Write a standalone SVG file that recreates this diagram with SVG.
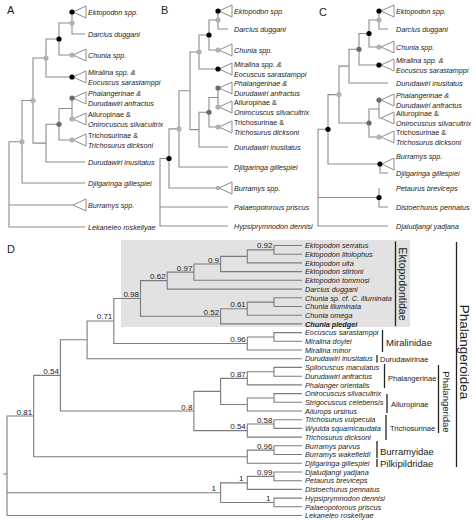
<svg xmlns="http://www.w3.org/2000/svg" width="474" height="520" viewBox="0 0 474 520">
<style>
.ln{fill:none;stroke:#8c8c8c;stroke-width:1.1}
.dl{fill:none;stroke:#7c7c7c;stroke-width:1.1}
.tr{fill:#fff;stroke:#8c8c8c;stroke-width:1}
.t{font-family:"Liberation Sans",Arial,sans-serif;font-size:7.2px;fill:#222}
.i{font-style:italic}
.dt{font-size:7.3px}
.n{font-family:"Liberation Sans",Arial,sans-serif;font-size:8px;fill:#222;text-anchor:end}
.pl{font-family:"Liberation Sans",Arial,sans-serif;font-size:11px;fill:#222}
.k{fill:#000}.g{fill:#b0b0b0}.d{fill:#6a6a6a}
.bar{stroke:#222;stroke-width:1.3;fill:none}
.cl{font-family:"Liberation Sans",Arial,sans-serif;fill:#222}
</style>
<rect x="0" y="0" width="474" height="520" fill="#fff"/>
<text class="pl" x="7" y="14">A</text>
<text class="pl" x="161" y="14">B</text>
<text class="pl" x="319" y="16">C</text>
<text class="pl" x="7" y="253">D</text>

<!-- ========== Panel A ========== -->
<g id="A-connectors">
<path class="ln" d="M72,12V34H85 M72,23H59V55H72 M59,39H46V77H72 M72,98V119 M72,108.5H59V140H72 M59,124.25H46V162H85 M46,58H33V143.1H46 M33,100.5H22V183H85 M22,141.8H9V227H85 M9,205H73"/>
</g>
<g id="A-supports">
<circle class="g" cx="72" cy="23" r="2.6"/><circle class="k" cx="59" cy="39" r="2.6"/><circle class="g" cx="46" cy="58" r="2.6"/>
<circle class="d" cx="59" cy="124.25" r="2.6"/><circle class="g" cx="33" cy="100.5" r="2.6"/><circle class="g" cx="22" cy="141.8" r="2.6"/>
</g>
<g id="A-ektopodon"><path class="tr" d="M73,12L86,6L86,18Z"/><circle class="k" cx="72" cy="12" r="2.6"/><text class="t i" x="88" y="14.7">Ektopodon spp.</text></g>
<g id="A-darcius"><text class="t i" x="88" y="36.7">Darcius duggani</text></g>
<g id="A-chunia"><path class="tr" d="M73,55L86,49L86,61Z"/><circle class="g" cx="72" cy="55" r="2.6"/><text class="t i" x="88" y="57.7">Chunia spp.</text></g>
<g id="A-miralina"><path class="tr" d="M73,77L86,71L86,83Z"/><circle class="k" cx="72" cy="77" r="2.6"/><text class="t i" x="88" y="75">Miralina spp. &amp;</text><text class="t i" x="88" y="85">Eocuscus sarastamppi</text></g>
<g id="A-phalangerinae"><path class="tr" d="M73,98L86,92L86,104Z"/><circle class="d" cx="72" cy="98" r="2.6"/><text class="t i" x="88" y="96">Phalangerinae &amp;</text><text class="t i" x="88" y="106">Durudawiri anfractus</text></g>
<g id="A-ailuropinae"><path class="tr" d="M73,119L86,113L86,125Z"/><circle class="g" cx="72" cy="119" r="2.6"/><text class="t" x="88" y="117">Ailuropinae &amp;</text><text class="t i" x="88" y="127">Onirocuscus silvacultrix</text></g>
<g id="A-trichosurinae"><path class="tr" d="M73,140L86,134L86,146Z"/><circle class="g" cx="72" cy="140" r="2.6"/><text class="t" x="88" y="138">Trichosurinae &amp;</text><text class="t i" x="88" y="148">Trichosurus dicksoni</text></g>
<g id="A-durudawiri"><text class="t i" x="88" y="164.7">Durudawiri inusitatus</text></g>
<g id="A-djilgaringa"><text class="t i" x="88" y="185.7">Djilgaringa gillespiei</text></g>
<g id="A-burramys"><path class="tr" d="M73,205L86,199L86,211Z"/><text class="t i" x="88" y="207.7">Burramys spp.</text></g>
<g id="A-lekaneleo"><text class="t i" x="88" y="229.7">Lekaneleo roskellyae</text></g>

<!-- ========== Panel B ========== -->
<g id="B-connectors">
<path class="ln" d="M218,11V29H228 M218,20H209V50H218 M209,35H199V69H218 M218,88V107 M218,97.5H209V127H218 M209,112.25H199V147H228 M199,52H190V129.6H199 M190,90.8H179V167H228 M179,128.9H169V188H219 M169,158.5H160V226H228 M160,207H228"/>
</g>
<g id="B-supports">
<circle class="g" cx="218" cy="20" r="2.6"/><circle class="k" cx="209" cy="35" r="2.6"/><circle class="g" cx="199" cy="52" r="2.6"/>
<circle class="d" cx="209" cy="112.25" r="2.6"/><circle class="g" cx="179" cy="128.9" r="2.6"/><circle class="k" cx="169" cy="158.5" r="2.6"/>
</g>
<g id="B-ektopodon"><path class="tr" d="M219,11L232,5L232,17Z"/><circle class="k" cx="218" cy="11" r="2.6"/><text class="t i" x="234" y="13.7">Ektopodon spp.</text></g>
<g id="B-darcius"><text class="t i" x="234" y="31.7">Darcius duggani</text></g>
<g id="B-chunia"><path class="tr" d="M219,50L232,44L232,56Z"/><circle class="g" cx="218" cy="50" r="2.6"/><text class="t i" x="234" y="52.7">Chunia spp.</text></g>
<g id="B-miralina"><path class="tr" d="M219,69L232,63L232,75Z"/><circle class="k" cx="218" cy="69" r="2.6"/><text class="t i" x="234" y="67">Miralina spp. &amp;</text><text class="t i" x="234" y="77">Eocuscus sarastamppi</text></g>
<g id="B-phalangerinae"><path class="tr" d="M219,88L232,82L232,94Z"/><circle class="d" cx="218" cy="88" r="2.6"/><text class="t i" x="234" y="86">Phalangerinae &amp;</text><text class="t i" x="234" y="96">Durudawiri anfractus</text></g>
<g id="B-ailuropinae"><path class="tr" d="M219,107L232,101L232,113Z"/><circle class="g" cx="218" cy="107" r="2.6"/><text class="t" x="234" y="105">Ailuropinae &amp;</text><text class="t i" x="234" y="115">Onirocuscus silvacultrix</text></g>
<g id="B-trichosurinae"><path class="tr" d="M219,127L232,121L232,133Z"/><circle class="g" cx="218" cy="127" r="2.6"/><text class="t" x="234" y="125">Trichosurinae &amp;</text><text class="t i" x="234" y="135">Trichosurus dicksoni</text></g>
<g id="B-durudawiri"><text class="t i" x="234" y="149.7">Durudawiri inusitatus</text></g>
<g id="B-djilgaringa"><text class="t i" x="234" y="169.7">Djilgaringa gillespiei</text></g>
<g id="B-burramys"><path class="tr" d="M219,188L232,182L232,194Z"/><circle class="g" cx="218" cy="188" r="2.3"/><text class="t i" x="234" y="190.7">Burramys spp.</text></g>
<g id="B-palaeopotorous"><text class="t i" x="234" y="209.7">Palaeopotorous priscus</text></g>
<g id="B-hypsiprymnodon"><text class="t i" x="234" y="228.7">Hypsiprymnodon dennisi</text></g>

<!-- ========== Panel C ========== -->
<g id="C-connectors">
<path class="ln" d="M379,11V29H388 M379,20H369V47H379 M369,33.5H359V65H379 M359,49.25H349V83H388 M379,100V118H381 M379,109H369V137H379 M349,66.1H339V123H369 M339,94.6H328V164H381 M380,164V173H388 M379,188V207H388 M318,197.5H379 M328,129.3H318V226H388"/>
</g>
<g id="C-supports">
<circle class="g" cx="379" cy="20" r="2.6"/><circle class="k" cx="369" cy="33.5" r="2.6"/><circle class="d" cx="359" cy="49.25" r="2.6"/>
<circle class="d" cx="369" cy="123" r="2.6"/><circle class="g" cx="339" cy="94.6" r="2.6"/><circle class="k" cx="328" cy="129.3" r="2.6"/>
<circle class="k" cx="380" cy="164" r="2.6"/><circle class="k" cx="379" cy="197.5" r="2.6"/>
</g>
<g id="C-ektopodon"><path class="tr" d="M381,11L394,5L394,17Z"/><circle class="k" cx="379" cy="11" r="2.6"/><text class="t i" x="396" y="13.7">Ektopodon spp.</text></g>
<g id="C-darcius"><text class="t i" x="396" y="31.7">Darcius duggani</text></g>
<g id="C-chunia"><path class="tr" d="M381,47L394,41L394,53Z"/><circle class="g" cx="379" cy="47" r="2.6"/><text class="t i" x="396" y="49.7">Chunia spp.</text></g>
<g id="C-miralina"><path class="tr" d="M381,65L394,59L394,71Z"/><circle class="k" cx="379" cy="65" r="2.6"/><text class="t i" x="396" y="63">Miralina spp. &amp;</text><text class="t i" x="396" y="73">Eocuscus sarastamppi</text></g>
<g id="C-durudawiri"><text class="t i" x="396" y="85.7">Durudawiri inusitatus</text></g>
<g id="C-phalangerinae"><path class="tr" d="M381,100L394,94L394,106Z"/><circle class="d" cx="379" cy="100" r="2.6"/><text class="t i" x="396" y="98">Phalangerinae &amp;</text><text class="t i" x="396" y="108">Durudawiri anfractus</text></g>
<g id="C-ailuropinae"><path class="tr" d="M381,118L394,112L394,124Z"/><text class="t" x="396" y="116">Ailuropinae &amp;</text><text class="t i" x="396" y="126">Onirocuscus silvacultrix</text></g>
<g id="C-trichosurinae"><path class="tr" d="M381,137L394,131L394,143Z"/><circle class="g" cx="379" cy="137" r="2.6"/><text class="t" x="396" y="135">Trichosurinae &amp;</text><text class="t i" x="396" y="145">Trichosurus dicksoni</text></g>
<g id="C-burramys"><path class="tr" d="M382,164L394,158L394,170Z"/><text class="t i" x="396" y="159">Burramys spp.</text></g>
<g id="C-djilgaringa"><text class="t i" x="396" y="175.7">Djilgaringa gillespiei</text></g>
<g id="C-petaurus"><text class="t i" x="396" y="190.7">Petaurus breviceps</text></g>
<g id="C-distoechurus"><text class="t i" x="396" y="209.7">Distoechurus pennatus</text></g>
<g id="C-djaludjangi"><text class="t i" x="396" y="228.7">Djaludjangi yadjana</text></g>

<!-- ========== Panel D ========== -->
<rect id="D-ektopodontidae-box" x="121" y="240" width="289" height="87" fill="#e2e2e2"/>
<g id="D-connectors">
<path class="dl" d="M302,245.5H274V254.2H302 M274,249.85H247.3V262.9H302 M247.3,256.4H220.6V271.6H302 M220.6,264H193.9V280.3H302 M193.9,272.15H167.2V289.1H302
M302,297.8H274V306.5H302 M274,302.15H247.3V315.2H302 M247.3,308.7H220.6V323.9H302 M167.2,280.6H140.5V316.3H220.6
M302,332.6H274V341.3H302 M274,336.95H247.3V350H302 M140.5,298.45H113.8V343.5H247.3 M113.8,320.95H87.1V358.7H302
M302,367.4H274V376.2H302 M274,371.8H247.3V384.9H302 M302,393.6H274V402.3H302 M274,397.95H247.3V411H302 M247.3,378.35H220.6V404.5H247.3
M302,419.7H274V428.4H302 M274,424.05H247.3V437.1H302 M220.6,391.4H193.9V430.6H247.3 M87.1,339.8H60.4V411H193.9
M302,445.8H274V454.5H302 M274,450.15H247.3V463.3H302 M60.4,375.4H33.7V456.7H247.3
M302,472H274V480.7H302 M274,476.35H247.3V489.4H302 M302,498.1H274V506.8H302 M247.3,482.9H220.6V502.45H274
M33.7,416.05H7V515.5H302 M7,492.7H220.6 M3,474H7"/>
</g>
<g id="D-support-values">
<text class="n" x="272.5" y="248.3">0.92</text>
<text class="n" x="219" y="262.5">0.9</text>
<text class="n" x="192.4" y="270.6">0.97</text>
<text class="n" x="165.7" y="279.1">0.62</text>
<text class="n" x="245.8" y="307.2">0.61</text>
<text class="n" x="219.1" y="314.8">0.52</text>
<text class="n" x="139" y="296.9">0.98</text>
<text class="n" x="245.8" y="342">0.96</text>
<text class="n" x="112.3" y="319.4">0.71</text>
<text class="n" x="245.8" y="376.8">0.87</text>
<text class="n" x="272.5" y="422.5">0.58</text>
<text class="n" x="245.8" y="429.1">0.54</text>
<text class="n" x="192.4" y="409.5">0.8</text>
<text class="n" x="58.9" y="373.9">0.54</text>
<text class="n" x="272.5" y="448.6">0.96</text>
<text class="n" x="32.2" y="414.5">0.81</text>
<text class="n" x="272.5" y="474.8">0.99</text>
<text class="n" x="243.5" y="481.4">1</text>
<text class="n" x="216" y="491.2">1</text>
<text class="n" x="270.5" y="500.9">1</text>
</g>
<g id="D-leaves">
<text class="t dt i" x="305" y="248.2">Ektopodon serratus</text>
<text class="t dt i" x="305" y="256.9">Ektopodon litolophus</text>
<text class="t dt i" x="305" y="265.6">Ektopodon ulta</text>
<text class="t dt i" x="305" y="274.3">Ektopodon stirtoni</text>
<text class="t dt i" x="305" y="283">Ektopodon tommosi</text>
<text class="t dt i" x="305" y="291.8">Darcius duggani</text>
<text class="t dt i" x="305" y="300.5">Chunia sp. cf. C. illuminata</text>
<text class="t dt i" x="305" y="309.2">Chunia illuminata</text>
<text class="t dt i" x="305" y="317.9">Chunia omega</text>
<text class="t dt i" x="305" y="326.6" font-weight="bold">Chunia pledgei</text>
<text class="t dt i" x="305" y="335.3">Eocuscus sarastamppi</text>
<text class="t dt i" x="305" y="344">Miralina doylei</text>
<text class="t dt i" x="305" y="352.7">Miralina minor</text>
<text class="t dt i" x="305" y="361.4">Durudawiri inusitatus</text>
<text class="t dt i" x="305" y="370.1">Spilocuscus maculatus</text>
<text class="t dt i" x="305" y="378.9">Durudawiri anfractus</text>
<text class="t dt i" x="305" y="387.6">Phalanger orientalis</text>
<text class="t dt i" x="305" y="396.3">Onirocuscus silvacultrix</text>
<text class="t dt i" x="305" y="405">Strigocuscus celebensis</text>
<text class="t dt i" x="305" y="413.7">Ailurops ursinus</text>
<text class="t dt i" x="305" y="422.4">Trichosurus vulpecula</text>
<text class="t dt i" x="305" y="431.1">Wyulda squamicaudata</text>
<text class="t dt i" x="305" y="439.8">Trichosurus dicksoni</text>
<text class="t dt i" x="305" y="448.5">Burramys parvus</text>
<text class="t dt i" x="305" y="457.2">Burramys wakefieldi</text>
<text class="t dt i" x="305" y="466">Djilgaringa gillespiei</text>
<text class="t dt i" x="305" y="474.7">Djaludjangi yadjana</text>
<text class="t dt i" x="305" y="483.4">Petaurus breviceps</text>
<text class="t dt i" x="305" y="492.1">Distoechurus pennatus</text>
<text class="t dt i" x="305" y="500.8">Hypsiprymnodon dennisi</text>
<text class="t dt i" x="305" y="509.5">Palaeopotorous priscus</text>
<text class="t dt i" x="305" y="518.2">Lekaneleo roskellyae</text>
</g>
<g id="D-clade-ektopodontidae"><path class="bar" d="M395.5,241.5V326"/><text class="cl" font-size="10.5" text-anchor="middle" transform="translate(399,284) rotate(90)">Ektopodontidae</text></g>
<g id="D-clade-miralinidae"><path class="bar" d="M382.5,330V352"/><text class="cl" font-size="9.5" x="386" y="345.5">Miralinidae</text></g>
<g id="D-clade-durudawirinae"><path class="bar" d="M377,355V362.5"/><text class="cl" font-size="7.5" x="380" y="361.5">Durudawirinae</text></g>
<g id="D-clade-phalangerinae"><path class="bar" d="M384.5,364V388"/><text class="cl" font-size="7.5" x="388" y="380.5">Phalangerinae</text></g>
<g id="D-clade-ailuropinae"><path class="bar" d="M387,394V413"/><text class="cl" font-size="7.5" x="391" y="406.5">Ailuropinae</text></g>
<g id="D-clade-trichosurinae"><path class="bar" d="M386,415V440"/><text class="cl" font-size="7.5" x="390" y="431">Trichosurinae</text></g>
<g id="D-clade-phalangeridae"><path class="bar" d="M438.5,365V433"/><text class="cl" font-size="9.5" text-anchor="middle" transform="translate(443,402) rotate(90)">Phalangeridae</text></g>
<g id="D-clade-burramyidae"><path class="bar" d="M377,441V458"/><text class="cl" font-size="9.5" x="380" y="455">Burramyidae</text></g>
<g id="D-clade-pilkipildridae"><path class="bar" d="M377,459V467"/><text class="cl" font-size="9.5" x="380" y="466.5">Pilkipildridae</text></g>
<g id="D-clade-phalangeroidea"><path class="bar" d="M456.5,242V467"/><text class="cl" font-size="13.5" text-anchor="middle" transform="translate(460,352) rotate(90)">Phalangeroidea</text></g>
</svg>
